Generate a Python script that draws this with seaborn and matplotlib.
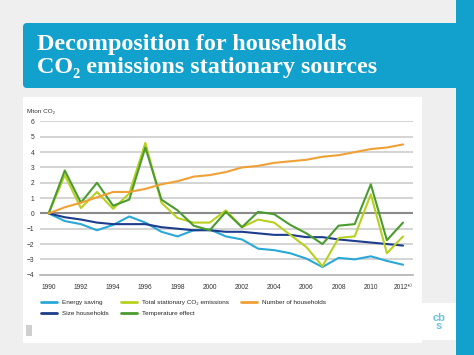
import matplotlib
matplotlib.use("Agg")
import matplotlib.pyplot as plt
from matplotlib.patches import Rectangle, FancyBboxPatch
from matplotlib.lines import Line2D
import pandas as pd
import seaborn as sns

# values (Mton CO2, change since 1990)
years = list(range(1990, 2013))
energy_saving = [0, -0.5, -0.7, -1.1, -0.75, -0.2, -0.6, -1.2, -1.5, -1.1, -1.05, -1.5,
                 -1.7, -2.3, -2.4, -2.6, -2.95, -3.5, -2.9, -3.0, -2.8, -3.1, -3.35]
size_households = [0, -0.25, -0.4, -0.6, -0.7, -0.7, -0.7, -0.9, -1.0, -1.1, -1.1, -1.2,
                   -1.2, -1.3, -1.4, -1.4, -1.55, -1.55, -1.7, -1.8, -1.9, -2.0, -2.1]
total_stationary = [0, 2.5, 0.35, 1.4, 0.3, 1.3, 4.6, 0.7, -0.3, -0.6, -0.6, 0.2,
                    -0.9, -0.4, -0.6, -1.4, -2.2, -3.45, -1.6, -1.5, 1.25, -2.6, -1.5]
temperature_effect = [0, 2.8, 0.7, 2.0, 0.5, 0.9, 4.3, 0.9, 0.2, -0.8, -1.1, 0.1,
                      -0.9, 0.1, -0.05, -0.75, -1.3, -2.0, -0.8, -0.7, 1.9, -1.75, -0.6]
n_households = [0, 0.4, 0.7, 1.05, 1.4, 1.4, 1.6, 1.9, 2.1, 2.4, 2.5, 2.7,
                3.0, 3.1, 3.3, 3.4, 3.5, 3.7, 3.8, 4.0, 4.2, 4.3, 4.5]

series_names = ["Energy saving", "Size households", "Total stationary CO\u2082 emissions",
                "Temperature effect", "Number of households"]
series_values = [energy_saving, size_households, total_stationary,
                 temperature_effect, n_households]
colors = ["#2aa8d8", "#1c3c8c", "#b8d020", "#4b9b2e", "#f0a035"]
tick_years = list(range(1990, 2013, 2))

df = pd.concat([pd.DataFrame({"year": years, "value": v, "series": n})
                for n, v in zip(series_names, series_values)])

sns.set_style("white")
plt.rcParams["font.family"] = ["Liberation Sans", "DejaVu Sans"]

W, H = 474, 355
fig = plt.figure(figsize=(W / 100, H / 100), dpi=100, facecolor="#efefef")

# background decoration in pixel coordinates
bg = fig.add_axes([0, 0, 1, 1])
bg.set_xlim(0, W)
bg.set_ylim(H, 0)
bg.axis("off")
blue = "#12a0cc"
bg.add_patch(Rectangle((456, 0), 18, H, color=blue, lw=0))
bg.add_patch(FancyBboxPatch((27, 27), 440, 57, boxstyle="round,pad=4",
                            color=blue, lw=0))
bg.add_patch(Rectangle((23, 97), 399, 246, color="white", lw=0))
bg.add_patch(Rectangle((422, 303), 34, 37, color="white", lw=0))
bg.add_patch(Rectangle((26, 325), 6, 11, color="#cfcfcf", lw=0))
bg.text(439, 322, "cb\ns", color="#6cc3df", fontsize=8, ha="center", va="center",
        fontweight="bold", linespacing=0.8)
title_font = ["Liberation Serif", "DejaVu Serif"]
bg.text(37, 50, "Decomposition for households", color="white", fontsize=17.4,
        fontweight="bold", family=title_font, va="baseline")
bg.text(37, 72.7, "CO\u2082 emissions stationary sources", color="white", fontsize=17.4,
        fontweight="bold", family=title_font, va="baseline")
bg.text(27, 111, "Mton CO\u2082", fontsize=4.6, color="#333333", va="center")

# chart area
ax = fig.add_axes([40 / W, 1 - 274.7 / H, 373 / W, 154 / H])
ax.set_facecolor("none")
for y in range(-3, 7):
    ax.axhline(y, color="#8a8a8a" if y == 0 else "#c9c9c9",
               lw=1.5 if y == 0 else 1.1, zorder=0)
sns.lineplot(data=df, x="year", y="value", hue="series", hue_order=series_names,
             palette=colors, linewidth=1.5, ax=ax, legend=False, zorder=3)
ax.set_xlim(1989.46, 2012.62)
ax.set_ylim(-4, 6.05)
ax.set_xticks(tick_years)
ax.set_xticklabels([str(t) for t in tick_years[:-1]] + ["2012*\u207e"])
ax.set_yticks(range(-4, 7))
ax.tick_params(axis="x", direction="inout", length=5, width=0.8, color="#999999",
               labelsize=4.8, labelcolor="#333333", pad=4)
ax.tick_params(axis="y", length=0, labelsize=4.8, labelcolor="#333333", pad=4)
for s in ["top", "right", "left"]:
    ax.spines[s].set_visible(False)
ax.spines["bottom"].set_color("#aaaaaa")
ax.spines["bottom"].set_linewidth(1.1)
ax.set_xlabel("")
ax.set_ylabel("")

handles = [Line2D([], [], color=c, lw=2) for c in colors]
fig.legend(handles, series_names, loc="upper left", ncol=3,
           bbox_to_anchor=(41 / W, 1 - 300 / H), frameon=False, fontsize=4.6,
           handlelength=2.5, handletextpad=0.8, columnspacing=1.9,
           labelspacing=0.85, borderaxespad=0, borderpad=0)

fig.savefig("out.png", dpi=100, facecolor=fig.get_facecolor())
